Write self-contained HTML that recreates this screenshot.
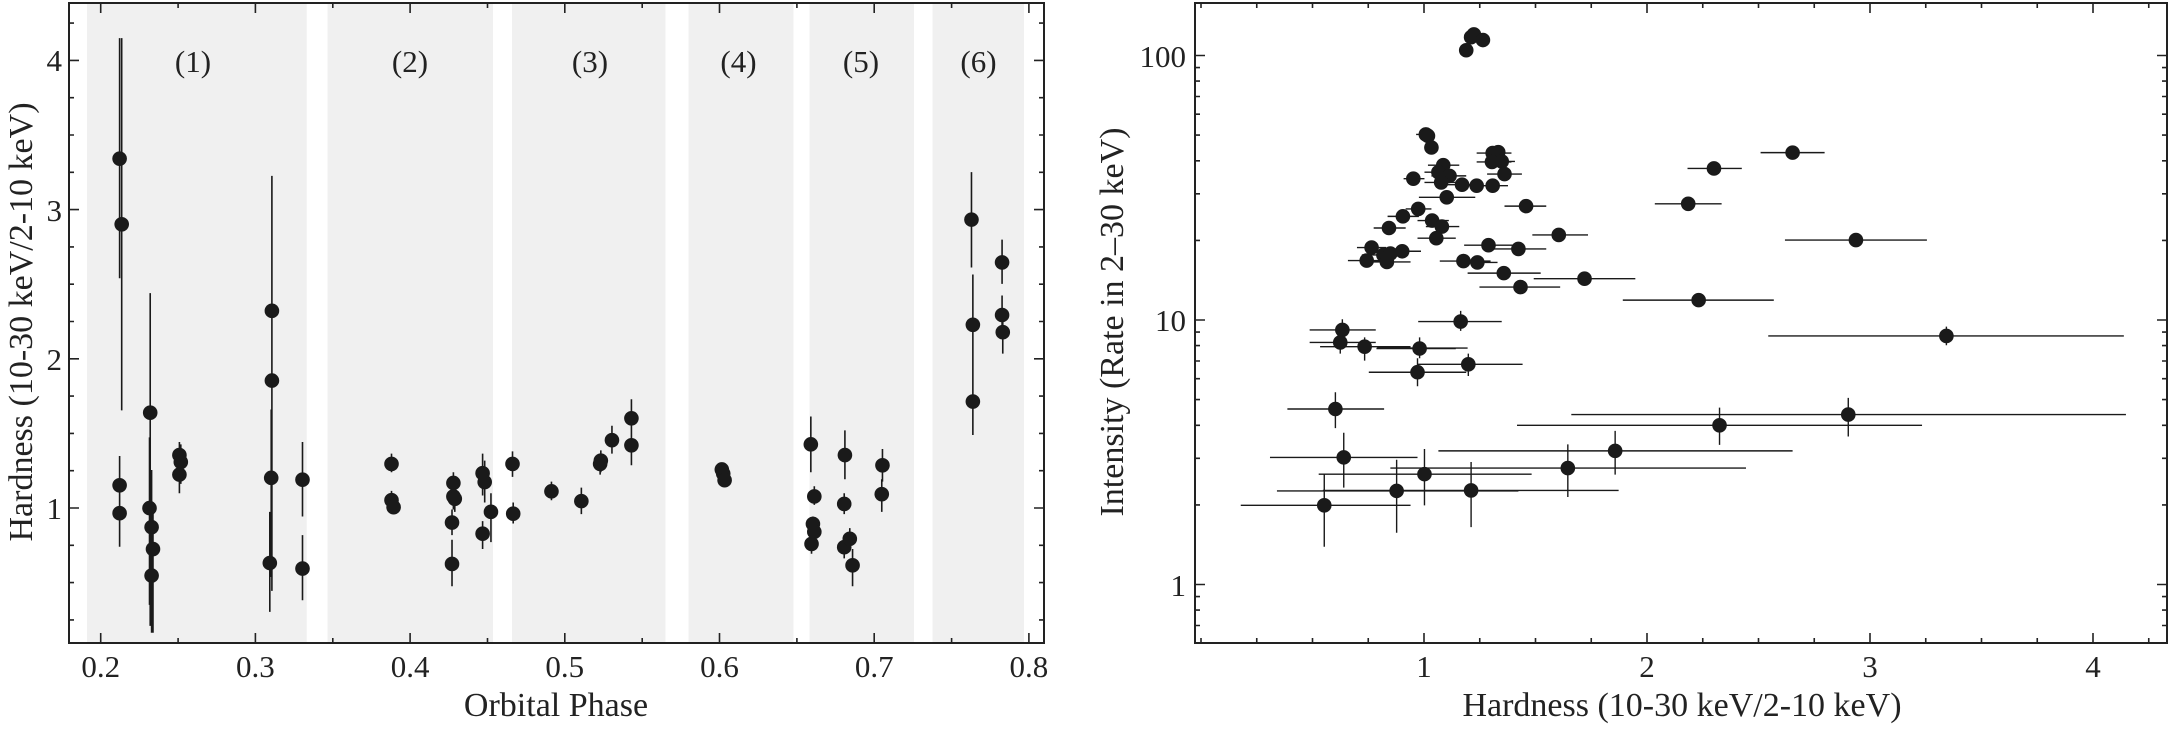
<!DOCTYPE html>
<html><head><meta charset="utf-8"><style>
html,body{margin:0;padding:0;background:#fff;}
svg{display:block;}
svg text{font-family:"Liberation Serif","DejaVu Serif",serif;fill:#222;}
</style></head><body>
<svg width="2171" height="730" viewBox="0 0 2171 730" xmlns="http://www.w3.org/2000/svg" font-family="Liberation Serif, DejaVu Serif, serif">
<!-- LEFT PANEL -->
<g fill="#f0f0f0">
<rect x="87" y="3" width="219.7" height="640"/>
<rect x="327.5" y="3" width="165.5" height="640"/>
<rect x="512" y="3" width="153.5" height="640"/>
<rect x="688.5" y="3" width="105" height="640"/>
<rect x="809.5" y="3" width="104.5" height="640"/>
<rect x="932.5" y="3" width="91.5" height="640"/>
</g>
<g font-size="31" text-anchor="middle" font-family="Liberation Serif, serif">
<text x="193" y="72">(1)</text><text x="410" y="72">(2)</text><text x="590" y="72">(3)</text>
<text x="738.5" y="72">(4)</text><text x="861" y="72">(5)</text><text x="978.5" y="72">(6)</text>
</g>
<g transform="scale(0.6954 0.4653)">
<path fill="none" stroke="#1a1a1a" stroke-width="1.6" vector-effect="non-scaling-stroke" d="
M172 82V598 M175 82V882 M172 980V1175 M172 1043V1160
M216 630V1345 M215 940V1300 M218 1010V1300 M220 1090V1360 M218 1100V1360
M258 950V1060 M260 955V1040 M258 980V1060
M391 378V1045 M391 560V1270 M390 880V1240 M388 1100V1315
M435 950V1110 M435 1150V1290
M563 975V1015 M563 1055V1100 M566 1075V1105
M652 1015V1065 M652 1040V1095 M654 1045V1100 M650 1095V1150 M650 1160V1260
M694 975V1065 M697 990V1080 M694 1120V1180 M706 1060V1165
M737 970V1025 M738 1080V1125
M793 1035V1075 M836 1048V1105 M863 975V1020 M864 968V1015 M880 915V975 M908 858V940 M908 925V1000
M1038 1000V1020 M1040 1005V1030 M1042 1020V1045
M1166 895V1015 M1171 1045V1085 M1169 1110V1145 M1171 1125V1160 M1167 1155V1190 M1214 1060V1105 M1215 925V1030 M1214 1150V1200 M1222 1135V1185 M1226 1180V1260 M1269 965V1035 M1268 1030V1100
M1397 370V575 M1399 590V800 M1399 790V935 M1441 515V610 M1441 635V715 M1442 690V760"/>
<g fill="#1a1a1a">
<ellipse cx="172" cy="341" rx="10.5" ry="15.7"/><ellipse cx="175" cy="482" rx="10.5" ry="15.7"/>
<ellipse cx="172" cy="1043" rx="10.5" ry="15.7"/><ellipse cx="172" cy="1103" rx="10.5" ry="15.7"/>
<ellipse cx="216" cy="887" rx="10.5" ry="15.7"/><ellipse cx="215" cy="1092" rx="10.5" ry="15.7"/>
<ellipse cx="218" cy="1133" rx="10.5" ry="15.7"/><ellipse cx="220" cy="1180" rx="10.5" ry="15.7"/>
<ellipse cx="218" cy="1237" rx="10.5" ry="15.7"/>
<ellipse cx="258" cy="978" rx="10.5" ry="15.7"/><ellipse cx="260" cy="993" rx="10.5" ry="15.7"/><ellipse cx="258" cy="1020" rx="10.5" ry="15.7"/>
<ellipse cx="391" cy="668" rx="10.5" ry="15.7"/><ellipse cx="391" cy="818" rx="10.5" ry="15.7"/>
<ellipse cx="390" cy="1027" rx="10.5" ry="15.7"/><ellipse cx="388" cy="1210" rx="10.5" ry="15.7"/>
<ellipse cx="435" cy="1031" rx="10.5" ry="15.7"/><ellipse cx="435" cy="1222" rx="10.5" ry="15.7"/>
<ellipse cx="563" cy="997" rx="10.5" ry="15.7"/><ellipse cx="563" cy="1075" rx="10.5" ry="15.7"/><ellipse cx="566" cy="1090" rx="10.5" ry="15.7"/>
<ellipse cx="652" cy="1038" rx="10.5" ry="15.7"/><ellipse cx="652" cy="1067" rx="10.5" ry="15.7"/><ellipse cx="654" cy="1072" rx="10.5" ry="15.7"/>
<ellipse cx="650" cy="1123" rx="10.5" ry="15.7"/><ellipse cx="650" cy="1212" rx="10.5" ry="15.7"/>
<ellipse cx="694" cy="1017" rx="10.5" ry="15.7"/><ellipse cx="697" cy="1036" rx="10.5" ry="15.7"/>
<ellipse cx="694" cy="1147" rx="10.5" ry="15.7"/><ellipse cx="706" cy="1100" rx="10.5" ry="15.7"/>
<ellipse cx="737" cy="997" rx="10.5" ry="15.7"/><ellipse cx="738" cy="1104" rx="10.5" ry="15.7"/>
<ellipse cx="793" cy="1056" rx="10.5" ry="15.7"/><ellipse cx="836" cy="1077" rx="10.5" ry="15.7"/>
<ellipse cx="863" cy="997" rx="10.5" ry="15.7"/><ellipse cx="864" cy="990" rx="10.5" ry="15.7"/>
<ellipse cx="880" cy="946" rx="10.5" ry="15.7"/><ellipse cx="908" cy="899" rx="10.5" ry="15.7"/><ellipse cx="908" cy="957" rx="10.5" ry="15.7"/>
<ellipse cx="1038" cy="1009" rx="10.5" ry="15.7"/><ellipse cx="1040" cy="1018" rx="10.5" ry="15.7"/><ellipse cx="1042" cy="1032" rx="10.5" ry="15.7"/>
<ellipse cx="1166" cy="955" rx="10.5" ry="15.7"/><ellipse cx="1171" cy="1067" rx="10.5" ry="15.7"/>
<ellipse cx="1169" cy="1126" rx="10.5" ry="15.7"/><ellipse cx="1171" cy="1143" rx="10.5" ry="15.7"/>
<ellipse cx="1167" cy="1169" rx="10.5" ry="15.7"/><ellipse cx="1214" cy="1083" rx="10.5" ry="15.7"/>
<ellipse cx="1215" cy="978" rx="10.5" ry="15.7"/><ellipse cx="1214" cy="1176" rx="10.5" ry="15.7"/>
<ellipse cx="1222" cy="1158" rx="10.5" ry="15.7"/><ellipse cx="1226" cy="1215" rx="10.5" ry="15.7"/>
<ellipse cx="1269" cy="1000" rx="10.5" ry="15.7"/><ellipse cx="1268" cy="1062" rx="10.5" ry="15.7"/>
<ellipse cx="1397" cy="472" rx="10.5" ry="15.7"/><ellipse cx="1399" cy="698" rx="10.5" ry="15.7"/>
<ellipse cx="1399" cy="863" rx="10.5" ry="15.7"/><ellipse cx="1441" cy="564" rx="10.5" ry="15.7"/>
<ellipse cx="1441" cy="677" rx="10.5" ry="15.7"/><ellipse cx="1442" cy="714" rx="10.5" ry="15.7"/>
</g>
</g>
<rect x="69" y="3" width="975" height="640" fill="none" stroke="#222" stroke-width="2"/>
<path fill="none" stroke="#222" stroke-width="1.6" d="
M100.7 643v-10 M255.4 643v-10 M410.1 643v-10 M564.8 643v-10 M719.5 643v-10 M874.2 643v-10 M1028.9 643v-10
M178.1 643v-5 M332.8 643v-5 M487.5 643v-5 M642.2 643v-5 M796.9 643v-5 M951.6 643v-5
M100.7 3v10 M255.4 3v10 M410.1 3v10 M564.8 3v10 M719.5 3v10 M874.2 3v10 M1028.9 3v10
M178.1 3v5 M332.8 3v5 M487.5 3v5 M642.2 3v5 M796.9 3v5 M951.6 3v5
M69 508h10 M69 358.8h10 M69 209.6h10 M69 60.4h10
M69 619.9h5 M69 582.6h5 M69 545.3h5 M69 470.7h5 M69 433.4h5 M69 396.1h5 M69 321.5h5 M69 284.2h5 M69 246.9h5 M69 172.3h5 M69 135h5 M69 97.7h5 M69 23.1h5
M1044 508h-10 M1044 358.8h-10 M1044 209.6h-10 M1044 60.4h-10
M1044 619.9h-5 M1044 582.6h-5 M1044 545.3h-5 M1044 470.7h-5 M1044 433.4h-5 M1044 396.1h-5 M1044 321.5h-5 M1044 284.2h-5 M1044 246.9h-5 M1044 172.3h-5 M1044 135h-5 M1044 97.7h-5 M1044 23.1h-5"/>
<g font-size="31" text-anchor="middle" font-family="Liberation Serif, serif">
<text x="100.7" y="677">0.2</text><text x="255.4" y="677">0.3</text><text x="410.1" y="677">0.4</text>
<text x="564.8" y="677">0.5</text><text x="719.5" y="677">0.6</text><text x="874.2" y="677">0.7</text><text x="1028.9" y="677">0.8</text>
</g>
<g font-size="31" text-anchor="end" font-family="Liberation Serif, serif">
<text x="62" y="519">1</text><text x="62" y="370">2</text><text x="62" y="221">3</text><text x="62" y="71">4</text>
</g>
<text x="556" y="716" font-size="34" text-anchor="middle" font-family="Liberation Serif, serif">Orbital Phase</text>
<text transform="translate(32 322) rotate(-90)" font-size="34" text-anchor="middle" font-family="Liberation Serif, serif">Hardness (10-30 keV/2-10 keV)</text>

<!-- RIGHT PANEL -->
<g transform="translate(1080 0) scale(0.6959 0.4653)">
<path fill="none" stroke="#1a1a1a" stroke-width="1.4" vector-effect="non-scaling-stroke" d="
M483 289H510 M495 317H515 M570 329H620 M570 348H620 M585 347H625 M500 355H545 M495 370H535 M505 378H555 M585 374H635
M465 384H495 M495 392H545 M525 397H575 M545 399H595 M570 399H615 M487 424H568 M610 443H670 M468 449H505 M442 465H487
M485 474H530 M497 487H545 M422 490H468 M485 512H540 M650 505H730 M398 532H440 M552 527H622 M590 535H670 M440 540H490
M405 548H470 M385 560H435 M415 563H475 M517 561H590 M545 564H600 M557 587H662 M652 599H798 M574 617H690
M978 328H1070 M873 362H951 M826 438H922 M1013 516H1217 M780 645H997
M486 691H606 M547 668V711 M989 722H1500 M1245 702V742 M330 709H425 M377 686V732 M330 736H425 M374 718V760
M345 745H475 M409 725V775 M426 749H540 M488 725V770 M427 748H557 M485 783H636 M558 760V808 M415 800H555 M485 770V830
M298 879H437 M367 843V920 M706 891H1503 M1104 855V938 M628 914H1210 M919 876V956 M273 983H485 M379 930V1048
M515 969H1024 M769 926V1020 M446 1006H957 M701 955V1068 M343 1019H649 M495 965V1086 M283 1055H630 M455 988V1145
M349 1054H774 M562 993V1133 M231 1086H475 M351 1020V1175"/>
<g fill="#1a1a1a">
<ellipse cx="555" cy="108" rx="10.5" ry="15.7"/><ellipse cx="562" cy="80" rx="10.5" ry="15.7"/><ellipse cx="566" cy="74" rx="10.5" ry="15.7"/><ellipse cx="579" cy="86" rx="10.5" ry="15.7"/>
<ellipse cx="497" cy="289" rx="10.5" ry="15.7"/><ellipse cx="500" cy="292" rx="10.5" ry="15.7"/><ellipse cx="505" cy="317" rx="10.5" ry="15.7"/>
<ellipse cx="593" cy="329" rx="10.5" ry="15.7"/><ellipse cx="601" cy="327" rx="10.5" ry="15.7"/><ellipse cx="592" cy="348" rx="10.5" ry="15.7"/>
<ellipse cx="606" cy="347" rx="10.5" ry="15.7"/><ellipse cx="522" cy="355" rx="10.5" ry="15.7"/><ellipse cx="515" cy="370" rx="10.5" ry="15.7"/>
<ellipse cx="531" cy="378" rx="10.5" ry="15.7"/><ellipse cx="610" cy="374" rx="10.5" ry="15.7"/><ellipse cx="479" cy="384" rx="10.5" ry="15.7"/>
<ellipse cx="519" cy="392" rx="10.5" ry="15.7"/><ellipse cx="549" cy="397" rx="10.5" ry="15.7"/><ellipse cx="570" cy="399" rx="10.5" ry="15.7"/>
<ellipse cx="593" cy="399" rx="10.5" ry="15.7"/><ellipse cx="527" cy="424" rx="10.5" ry="15.7"/><ellipse cx="641" cy="443" rx="10.5" ry="15.7"/>
<ellipse cx="486" cy="449" rx="10.5" ry="15.7"/><ellipse cx="464" cy="465" rx="10.5" ry="15.7"/><ellipse cx="506" cy="474" rx="10.5" ry="15.7"/>
<ellipse cx="520" cy="487" rx="10.5" ry="15.7"/><ellipse cx="444" cy="490" rx="10.5" ry="15.7"/><ellipse cx="512" cy="512" rx="10.5" ry="15.7"/>
<ellipse cx="688" cy="505" rx="10.5" ry="15.7"/><ellipse cx="419" cy="532" rx="10.5" ry="15.7"/><ellipse cx="587" cy="527" rx="10.5" ry="15.7"/>
<ellipse cx="630" cy="535" rx="10.5" ry="15.7"/><ellipse cx="463" cy="540" rx="10.5" ry="15.7"/><ellipse cx="436" cy="548" rx="10.5" ry="15.7"/>
<ellipse cx="446" cy="545" rx="10.5" ry="15.7"/><ellipse cx="412" cy="560" rx="10.5" ry="15.7"/><ellipse cx="441" cy="563" rx="10.5" ry="15.7"/>
<ellipse cx="551" cy="561" rx="10.5" ry="15.7"/><ellipse cx="571" cy="564" rx="10.5" ry="15.7"/><ellipse cx="609" cy="587" rx="10.5" ry="15.7"/>
<ellipse cx="725" cy="599" rx="10.5" ry="15.7"/><ellipse cx="633" cy="617" rx="10.5" ry="15.7"/>
<ellipse cx="1024" cy="328" rx="10.5" ry="15.7"/><ellipse cx="911" cy="362" rx="10.5" ry="15.7"/><ellipse cx="874" cy="438" rx="10.5" ry="15.7"/>
<ellipse cx="1115" cy="516" rx="10.5" ry="15.7"/><ellipse cx="889" cy="645" rx="10.5" ry="15.7"/>
<ellipse cx="547" cy="691" rx="10.5" ry="15.7"/><ellipse cx="1245" cy="722" rx="10.5" ry="15.7"/><ellipse cx="377" cy="709" rx="10.5" ry="15.7"/>
<ellipse cx="374" cy="736" rx="10.5" ry="15.7"/><ellipse cx="409" cy="745" rx="10.5" ry="15.7"/><ellipse cx="488" cy="749" rx="10.5" ry="15.7"/>
<ellipse cx="558" cy="783" rx="10.5" ry="15.7"/><ellipse cx="485" cy="800" rx="10.5" ry="15.7"/><ellipse cx="367" cy="879" rx="10.5" ry="15.7"/>
<ellipse cx="1104" cy="891" rx="10.5" ry="15.7"/><ellipse cx="919" cy="914" rx="10.5" ry="15.7"/><ellipse cx="379" cy="983" rx="10.5" ry="15.7"/>
<ellipse cx="769" cy="969" rx="10.5" ry="15.7"/><ellipse cx="701" cy="1006" rx="10.5" ry="15.7"/><ellipse cx="495" cy="1019" rx="10.5" ry="15.7"/>
<ellipse cx="455" cy="1055" rx="10.5" ry="15.7"/><ellipse cx="562" cy="1054" rx="10.5" ry="15.7"/><ellipse cx="351" cy="1086" rx="10.5" ry="15.7"/>
</g>
</g>
<rect x="1195" y="3" width="972" height="640" fill="none" stroke="#222" stroke-width="2"/>
<path fill="none" stroke="#222" stroke-width="1.6" d="
M1424 643v-10 M1647 643v-10 M1870 643v-10 M2093 643v-10
M1201 643v-5 M1256.75 643v-5 M1312.5 643v-5 M1368.25 643v-5 M1479.75 643v-5 M1535.5 643v-5 M1591.25 643v-5 M1702.75 643v-5 M1758.5 643v-5 M1814.25 643v-5 M1925.75 643v-5 M1981.5 643v-5 M2037.25 643v-5 M2148.75 643v-5
M1424 3v10 M1647 3v10 M1870 3v10 M2093 3v10
M1201 3v5 M1256.75 3v5 M1312.5 3v5 M1368.25 3v5 M1479.75 3v5 M1535.5 3v5 M1591.25 3v5 M1702.75 3v5 M1758.5 3v5 M1814.25 3v5 M1925.75 3v5 M1981.5 3v5 M2037.25 3v5 M2148.75 3v5
M1195 584.5h10 M1195 320h10 M1195 55.5h10
M1195 625.5h5 M1195 610.1h5 M1195 596.6h5 M1195 504.9h5 M1195 458.3h5 M1195 425.3h5 M1195 399.6h5 M1195 378.7h5 M1195 361h5 M1195 345.6h5 M1195 332.1h5
M1195 240.4h5 M1195 193.8h5 M1195 160.8h5 M1195 135.1h5 M1195 114.2h5 M1195 96.5h5 M1195 81.1h5 M1195 67.6h5
M2167 584.5h-10 M2167 320h-10 M2167 55.5h-10
M2167 625.5h-5 M2167 610.1h-5 M2167 596.6h-5 M2167 504.9h-5 M2167 458.3h-5 M2167 425.3h-5 M2167 399.6h-5 M2167 378.7h-5 M2167 361h-5 M2167 345.6h-5 M2167 332.1h-5
M2167 240.4h-5 M2167 193.8h-5 M2167 160.8h-5 M2167 135.1h-5 M2167 114.2h-5 M2167 96.5h-5 M2167 81.1h-5 M2167 67.6h-5"/>
<g font-size="31" text-anchor="middle" font-family="Liberation Serif, serif">
<text x="1424" y="677">1</text><text x="1647" y="677">2</text><text x="1870" y="677">3</text><text x="2093" y="677">4</text>
</g>
<g font-size="31" text-anchor="end" font-family="Liberation Serif, serif">
<text x="1186" y="596">1</text><text x="1186" y="331">10</text><text x="1186" y="67">100</text>
</g>
<text x="1682" y="716" font-size="34" text-anchor="middle" font-family="Liberation Serif, serif">Hardness (10-30 keV/2-10 keV)</text>
<text transform="translate(1123 322) rotate(-90)" font-size="34" text-anchor="middle" font-family="Liberation Serif, serif">Intensity (Rate in 2–30 keV)</text>
</svg>
</body></html>
